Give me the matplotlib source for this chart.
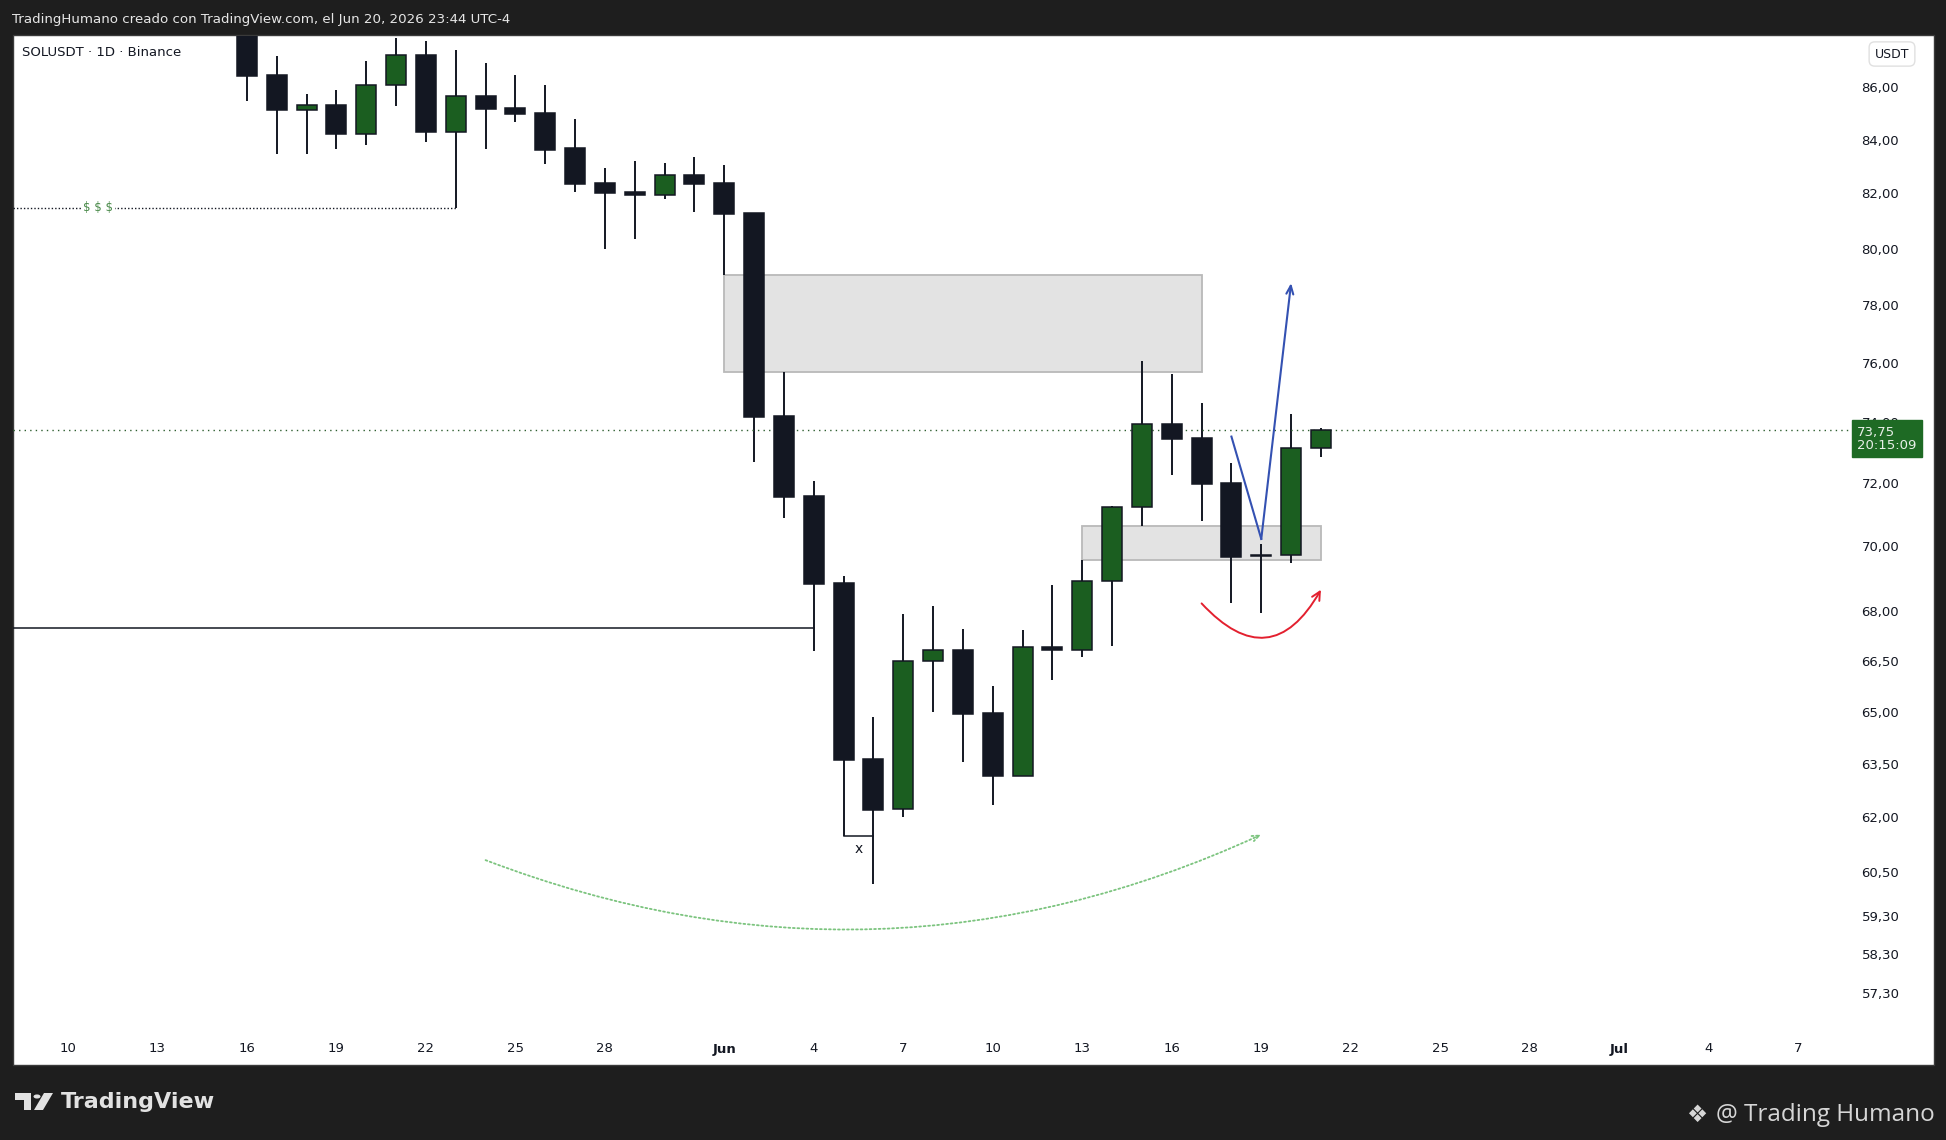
import numpy as np
import pandas as pd
import matplotlib
matplotlib.use("Agg")
import matplotlib.pyplot as plt
import matplotlib.dates as mdates
import matplotlib.transforms as mtransforms
from matplotlib.patches import Rectangle, Polygon, Circle
from matplotlib.ticker import FixedLocator, FixedFormatter, NullLocator

# daily candles SOLUSDT
dates = pd.date_range('2026-05-16', '2026-06-21', freq='D')
opens = [89.0, 86.46, 85.12, 85.30, 84.22, 86.10, 87.27, 84.30, 85.68, 85.20, 85.00, 83.68, 82.39,
         82.05, 81.95, 82.69, 82.39, 81.27, 74.20, 71.59, 68.86, 63.63, 62.22, 66.49, 66.81, 64.96,
         63.16, 66.90, 66.81, 68.91, 71.24, 73.94, 73.49, 72.01, 69.72, 69.72, 73.17]
highs = [89.8, 87.21, 85.73, 85.88, 87.01, 87.91, 87.80, 87.44, 86.93, 86.46, 86.08, 84.78, 82.94,
         83.20, 83.12, 83.35, 83.05, 81.27, 75.70, 72.08, 69.07, 64.84, 67.91, 68.15, 67.45, 65.75,
         67.42, 68.80, 69.56, 71.27, 76.06, 75.62, 74.64, 72.66, 70.07, 74.28, 73.83]
lows = [85.47, 83.45, 83.45, 83.64, 83.79, 85.28, 83.93, 81.47, 83.64, 84.68, 83.09, 82.05, 80.00,
        80.34, 81.80, 81.31, 79.07, 72.70, 70.90, 66.80, 61.47, 60.16, 61.99, 64.99, 63.56, 62.34,
        63.16, 65.94, 66.60, 66.95, 70.64, 72.28, 70.81, 68.23, 67.93, 69.49, 72.87]
closes = [86.44, 85.12, 85.30, 84.21, 86.10, 87.27, 84.30, 85.68, 85.16, 84.98, 83.62, 82.36, 82.03,
          81.95, 82.68, 82.36, 81.24, 74.18, 71.57, 68.84, 63.61, 62.18, 66.49, 66.81, 64.94, 63.16,
          66.90, 66.81, 68.91, 71.23, 73.93, 73.45, 71.99, 69.68, 69.70, 73.17, 73.75]

last_price = 73.75
countdown = '20:15:09'

price_ticks = [57.3, 58.3, 59.3, 60.5, 62, 63.5, 65, 66.5, 68, 70, 72, 74, 76, 78, 80, 82, 84, 86]
date_ticks = ['2026-05-10', '2026-05-13', '2026-05-16', '2026-05-19', '2026-05-22', '2026-05-25',
              '2026-05-28', '2026-06-01', '2026-06-04', '2026-06-07', '2026-06-10', '2026-06-13',
              '2026-06-16', '2026-06-19', '2026-06-22', '2026-06-25', '2026-06-28', '2026-07-01',
              '2026-07-04', '2026-07-07']
date_labels = ['10', '13', '16', '19', '22', '25', '28', 'Jun', '4', '7', '10', '13', '16', '19',
               '22', '25', '28', 'Jul', '4', '7']

# drawings on the chart
supply_zone = ('2026-06-01', '2026-06-17', 75.68, 79.05)
demand_zone = ('2026-06-13', '2026-06-21', 69.56, 70.63)
liq_level = ('2026-05-23', 81.47)
low_level = ('2026-06-04', 67.47)
bracket = ('2026-06-05', '2026-06-06', 61.47)
x_mark = ('2026-06-05 12:00', 61.12)
blue_path_dates = ['2026-06-18', '2026-06-19', '2026-06-20']
blue_path_prices = [73.53, 70.23, 78.77]
red_arc = (('2026-06-17', 68.23), ('2026-06-21', 68.65))
green_arc = (('2026-05-24', 60.81), ('2026-06-19', 61.51))

DARK = '#131722'
GREEN = '#1b5e20'

W, H = 1946, 1140
fig = plt.figure(figsize=(W / 100, H / 100), dpi=100, facecolor='#1e1e1e')

def fx(px):
    return px / W

def fy(py):
    return 1 - py / H

# white panel
fig.patches.append(Rectangle((fx(13), fy(1065)), fx(1934) - fx(13), (1065 - 35) / H,
                             transform=fig.transFigure, facecolor='white', edgecolor='#3a3a3a',
                             lw=1, zorder=-5))

ax = fig.add_axes([fx(13), fy(1030), fx(1849) - fx(13), (1030 - 36) / H])
ax.set_facecolor('none')
for s in ax.spines.values():
    s.set_visible(False)

d = lambda s: mdates.date2num(pd.Timestamp(s))
x = mdates.date2num(dates)
o = np.array(opens); c = np.array(closes)
up = c >= o

ax.set_yscale('log')
x_left = d('2026-05-10') - 1.84
x_right = d('2026-05-10') + 59.7
ax.set_xlim(x_left, x_right)
ax.set_ylim(56.35, 88.0)

# zones
for z in (supply_zone, demand_zone):
    ax.add_patch(Rectangle((d(z[0]), z[2]), d(z[1]) - d(z[0]), z[3] - z[2],
                           facecolor='#e3e3e3', edgecolor='#b9b9b9', lw=1.3, zorder=1))

# candles
ax.vlines(x, lows, highs, color=DARK, lw=1.4, zorder=2)
ax.bar(x, np.abs(c - o), bottom=np.minimum(o, c), width=0.67,
       color=np.where(up, GREEN, DARK), edgecolor=DARK, lw=1.1, zorder=3)

# levels
ax.plot([x_left, d(liq_level[0])], [liq_level[1]] * 2, color=DARK, lw=1, ls=(0, (1, 1.5)), zorder=2)
ax.text(d('2026-05-11'), liq_level[1], '$ $ $', color='#4a8a4a', fontsize=8.5, ha='center', va='center',
        bbox=dict(facecolor='white', edgecolor='none', pad=1.5), zorder=4)
ax.plot([x_left, d(low_level[0])], [low_level[1]] * 2, color=DARK, lw=1.1, zorder=2)
ax.plot([d(bracket[0]), d(bracket[1])], [bracket[2]] * 2, color=DARK, lw=1.1, zorder=2)
ax.text(d(x_mark[0]), x_mark[1], 'x', color=DARK, fontsize=10, ha='center', va='center', zorder=4)

ax.axhline(last_price, color='#2e5e30', lw=1, ls=(0, (1, 3)), zorder=2)

# blue path
bx = [d(s) for s in blue_path_dates]
ax.plot(bx[:2], blue_path_prices[:2], color='#3451b2', lw=1.5, zorder=5)
ax.annotate('', xy=(bx[2], blue_path_prices[2]), xytext=(bx[1], blue_path_prices[1]),
            arrowprops=dict(arrowstyle='->,head_length=0.6,head_width=0.25', color='#3451b2', lw=1.5,
                            shrinkA=0, shrinkB=0), zorder=5)

# red arc
ax.annotate('', xy=(d(red_arc[1][0]), red_arc[1][1]), xytext=(d(red_arc[0][0]), red_arc[0][1]),
            arrowprops=dict(arrowstyle='->,head_length=0.6,head_width=0.3', color='#e3202f', lw=1.4,
                            connectionstyle='arc3,rad=0.68', shrinkA=0, shrinkB=0), zorder=5)

# green dotted arc
ax.annotate('', xy=(d(green_arc[1][0]), green_arc[1][1]), xytext=(d(green_arc[0][0]), green_arc[0][1]),
            arrowprops=dict(arrowstyle='->,head_length=0.5,head_width=0.2', color='#7cc47f', lw=1.3,
                            ls=(0, (1, 1.5)), connectionstyle='arc3,rad=0.21', shrinkA=0, shrinkB=0),
            zorder=5)

# axes ticks
ax.yaxis.tick_right()
ax.yaxis.set_major_locator(FixedLocator(price_ticks))
ax.yaxis.set_major_formatter(FixedFormatter([('%.2f' % p).replace('.', ',') for p in price_ticks]))
ax.yaxis.set_minor_locator(NullLocator())
ax.tick_params(axis='y', length=0, pad=9, labelsize=9.5, labelcolor=DARK)

ax.xaxis.set_major_locator(FixedLocator([d(s) for s in date_ticks]))
ax.xaxis.set_major_formatter(FixedFormatter(date_labels))
ax.xaxis.set_minor_locator(NullLocator())
ax.tick_params(axis='x', length=0, pad=9, labelsize=9.5, labelcolor=DARK)
for t in ax.get_xticklabels():
    if t.get_text() in ('Jun', 'Jul'):
        t.set_fontweight('bold')

# last price label on the scale
tr = mtransforms.blended_transform_factory(ax.transAxes, ax.transData)
ax.annotate(('%.2f' % last_price).replace('.', ',') + '\n' + countdown, xy=(1.0, last_price),
            xycoords=tr, xytext=(6, -6.5), textcoords='offset points', ha='left', va='center',
            color='#e8efe8', fontsize=9.5, linespacing=1.05, annotation_clip=False,
            bbox=dict(boxstyle='square,pad=0.4', facecolor='#1e6a24', edgecolor='#1e6a24'), zorder=10)

fig.text(fx(1892), fy(54), 'USDT', ha='center', va='center', color=DARK, fontsize=9,
         bbox=dict(boxstyle='round,pad=0.45', facecolor='white', edgecolor='#e0e0e0'))
fig.text(fx(22), fy(53), 'SOLUSDT · 1D · Binance', ha='left', va='center', color=DARK, fontsize=9.5)

fig.text(fx(12), fy(19), 'TradingHumano creado con TradingView.com, el Jun 20, 2026 23:44 UTC-4',
         ha='left', va='center', color='#e6e6e6', fontsize=9.6)

# TradingView logo
LOGO = '#e2e2e2'
fig.patches.append(Polygon([(fx(15), fy(1093)), (fx(31), fy(1093)), (fx(31), fy(1110)),
                            (fx(24), fy(1110)), (fx(24), fy(1100)), (fx(15), fy(1100))],
                           closed=True, transform=fig.transFigure, facecolor=LOGO, edgecolor='none'))
fig.patches.append(Circle((fx(37), fy(1096.5)), 3.5 / W, transform=fig.transFigure,
                          facecolor=LOGO, edgecolor='none'))
fig.patches.append(Polygon([(fx(44), fy(1093)), (fx(53), fy(1093)), (fx(43), fy(1110)),
                            (fx(34), fy(1110))],
                           closed=True, transform=fig.transFigure, facecolor=LOGO, edgecolor='none'))
fig.text(fx(61), fy(1102), 'TradingView', ha='left', va='center', color=LOGO,
         fontsize=16, fontweight='bold')
fig.text(fx(1697), fy(1115), '❖', ha='center', va='center', color='#d6d6d6', fontsize=17)
fig.text(fx(1935), fy(1115), '@ Trading Humano', ha='right', va='center', color='#d6d6d6',
         fontsize=17.5, family=['Open Sans', 'DejaVu Sans'])

fig.savefig('out.png', dpi=100, facecolor=fig.get_facecolor())
